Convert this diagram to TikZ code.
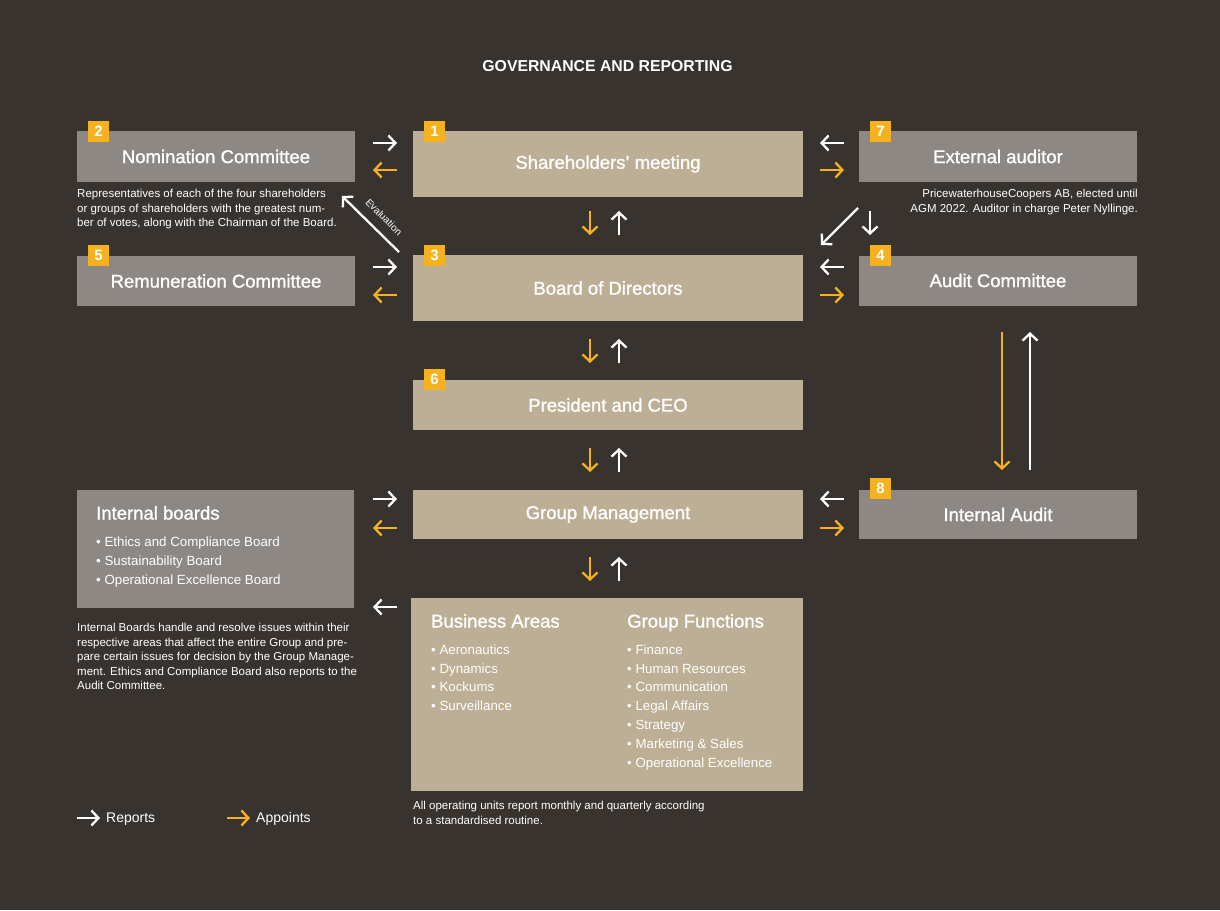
\documentclass[tikz,border=0pt]{standalone}
\usepackage{fontspec}
\setmainfont{Liberation Sans}
\newfontfamily\medf[FakeBold=1.2]{Liberation Sans}
\usetikzlibrary{arrows.meta}
\definecolor{bg}{HTML}{38332F}
\definecolor{beige}{HTML}{BCAF95}
\definecolor{greyb}{HTML}{8E8884}
\definecolor{gold}{HTML}{F5B21E}
\begin{document}
\begin{tikzpicture}[x=1pt,y=-1pt,
  gbox/.style={fill=greyb, inner sep=0pt, text=white, font=\medf\fontsize{18.5}{21}\selectfont},
  bbox/.style={fill=beige, inner sep=0pt, text=white, font=\medf\fontsize{18.5}{21}\selectfont},
  badge/.style={fill=gold, inner sep=0pt, minimum size=21pt, text=white, font=\bfseries\fontsize{15}{15}\selectfont},
  note/.style={inner sep=0pt, text=white, font=\fontsize{11.5}{14.5}\selectfont},
  blist/.style={inner sep=0pt, text=white, align=left, font=\fontsize{13.3}{18.8}\selectfont},
  btitle/.style={inner sep=0pt, text=white, font=\medf\fontsize{18.5}{21}\selectfont},
  rep/.style={draw=white, line width=2.3pt, -{Straight Barb[length=7pt,width=15pt]}},
  app/.style={draw=gold, line width=2.3pt, -{Straight Barb[length=7pt,width=15pt]}}
]
\useasboundingbox (0,0) rectangle (1220,910);
\fill[bg] (0,0) rectangle (1220,910);

\node[inner sep=0pt, text=white, font=\bfseries\fontsize{15.8}{18}\selectfont] (title) at (607.5,66) {GOVERNANCE AND REPORTING};

% boxes
\node[gbox, minimum width=278pt, minimum height=51pt] (nom) at (216,156.5) {Nomination Committee};
\node[bbox, minimum width=390pt, minimum height=66pt] (sh) at (608,164) {Shareholders’ meeting};
\node[gbox, minimum width=278pt, minimum height=51pt] (ext) at (998,156.5) {External auditor};
\node[gbox, minimum width=278pt, minimum height=50pt] (rem) at (216,281) {Remuneration Committee};
\node[bbox, minimum width=390pt, minimum height=66pt] (bod) at (608,288) {Board of Directors};
\node[gbox, minimum width=278pt, minimum height=50pt] (aud) at (998,280.5) {Audit Committee};
\node[bbox, minimum width=390pt, minimum height=50pt] (ceo) at (608,405) {President and CEO};
\node[gbox, minimum width=277pt, minimum height=118pt] (ib) at (215.5,549) {};
\node[bbox, minimum width=390pt, minimum height=49pt] (gm) at (608,514.5) {Group Management};
\node[gbox, minimum width=278pt, minimum height=49pt] (ia) at (998,514.5) {Internal Audit};
\node[bbox, minimum width=392pt, minimum height=193pt] (bus) at (607,694.5) {};

% badges
\node[badge] (b2) at (98.5,131.5) {2};
\node[badge] (b1) at (434.5,131.5) {1};
\node[badge] (b7) at (880.5,131.5) {7};
\node[badge] (b5) at (98.5,255.5) {5};
\node[badge] (b3) at (434.5,255.5) {3};
\node[badge] (b4) at (880.5,255.5) {4};
\node[badge] (b6) at (434.5,379.5) {6};
\node[badge] (b8) at (880.5,488.5) {8};

% internal boards contents
\node[btitle, anchor=base west] (ibt) at (96,519.5) {Internal boards};
\node[blist, anchor=north west, font=\fontsize{13.3}{19}\selectfont] (ibl) at (96,536.5) {\textbullet\ Ethics and Compliance Board\\\textbullet\ Sustainability Board\\\textbullet\ Operational Excellence Board};

% business contents
\node[btitle, anchor=base west] (bat) at (431,627.5) {Business Areas};
\node[blist, anchor=north west] (bal) at (431,644.5) {\textbullet\ Aeronautics\\\textbullet\ Dynamics\\\textbullet\ Kockums\\\textbullet\ Surveillance};
\node[btitle, anchor=base west] (gft) at (627,627.5) {Group Functions};
\node[blist, anchor=north west] (gfl) at (627,644.5) {\textbullet\ Finance\\\textbullet\ Human Resources\\\textbullet\ Communication\\\textbullet\ Legal Affairs\\\textbullet\ Strategy\\\textbullet\ Marketing \& Sales\\\textbullet\ Operational Excellence};

% notes
\node[note, anchor=north west, align=left] (nomnote) at (77,189) {Representatives of each of the four shareholders\\or groups of shareholders with the greatest num-\\ber of votes, along with the Chairman of the Board.};
\node[note, anchor=north east, align=right] (extnote) at (1138,189) {PricewaterhouseCoopers AB, elected until\\AGM 2022. Auditor in charge Peter Nyllinge.};
\node[note, anchor=north west, align=left] (ibnote) at (77,623) {Internal Boards handle and resolve issues within their\\respective areas that affect the entire Group and pre-\\pare certain issues for decision by the Group Manage-\\ment. Ethics and Compliance Board also reports to the\\Audit Committee.};
\node[note, anchor=north west, align=left, font=\fontsize{11.5}{15}\selectfont] (busnote) at (413,801) {All operating units report monthly and quarterly according\\to a standardised routine.};

% horizontal arrows
\coordinate (l1) at (373,0); \coordinate (l2) at (397,0);
\coordinate (r1) at (844,0); \coordinate (r2) at (820,0);
\foreach \yy/\yb in {143/170, 267/295, 499/528}{
  \draw[rep] (l1 |- 0,\yy) -- (l2 |- 0,\yy);
  \draw[app] (l2 |- 0,\yb) -- (l1 |- 0,\yb);
  \draw[rep] (r1 |- 0,\yy) -- (r2 |- 0,\yy);
  \draw[app] (r2 |- 0,\yb) -- (r1 |- 0,\yb);
}
\draw[rep] (l2 |- 0,607) -- (l1 |- 0,607);

% vertical arrow pairs
\coordinate (vd) at (590,0); \coordinate (vu) at (619,0);
\foreach \ya/\yb in {211/235, 339/363, 448/472, 557/581}{
  \draw[app] (vd |- 0,\ya) -- (vd |- 0,\yb);
  \draw[rep] (vu |- 0,\yb) -- (vu |- 0,\ya);
}

% evaluation
\coordinate (ev1) at (399,252); \coordinate (ev2) at (342,196);
\draw[rep] (ev1) -- (ev2);
\node[inner sep=0pt, text=white, rotate=-45, font=\fontsize{10}{12}\selectfont] (evl) at (384,217) {Evaluation};

% external auditor to board / audit committee
\coordinate (ex1) at (858,208); \coordinate (ex2) at (821,245);
\draw[rep] (ex1) -- (ex2);
\coordinate (ex3) at (870,211); \coordinate (ex4) at (870,235);
\draw[rep] (ex3) -- (ex4);

% audit committee <-> internal audit
\coordinate (ad1) at (1002,332); \coordinate (ad2) at (1002,470);
\draw[app] (ad1) -- (ad2);
\coordinate (au1) at (1030,470); \coordinate (au2) at (1030,332);
\draw[rep] (au1) -- (au2);

% legend
\coordinate (lg1) at (77,818); \coordinate (lg2) at (100,818);
\draw[rep] (lg1) -- (lg2);
\node[inner sep=0pt, anchor=west, text=white, font=\fontsize{14}{16}\selectfont] (lgr) at (106,819) {Reports};
\coordinate (lg3) at (227,818); \coordinate (lg4) at (250,818);
\draw[app] (lg3) -- (lg4);
\node[inner sep=0pt, anchor=west, text=white, font=\fontsize{14}{16}\selectfont] (lga) at (256,819) {Appoints};
\end{tikzpicture}
\end{document}
